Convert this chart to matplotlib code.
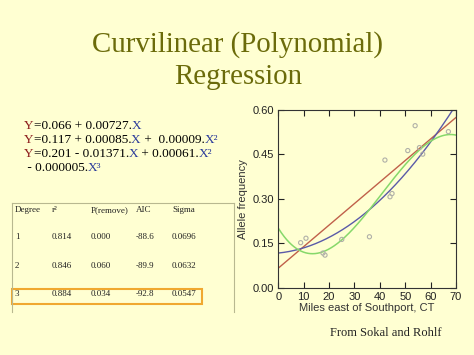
import matplotlib.pyplot as plt
import numpy as np
from numpy.polynomial import polynomial as P

# Datos: puntos observados (millas, frecuencia alélica)
miles = [8.8, 10.9, 17.6, 18.4, 25.0, 35.9, 42.0, 44.0, 44.8, 51.0, 53.9, 55.6, 56.9, 67.0]
freq = [0.152, 0.167, 0.117, 0.110, 0.163, 0.172, 0.431, 0.307, 0.318, 0.463, 0.547, 0.473, 0.451, 0.527]

# Coeficientes de los ajustes (orden creciente)
coef_lin = [0.066, 0.00727]
coef_quad = [0.117, 0.00085, 0.00009]
coef_cub = [0.201, -0.01371, 0.00061, -0.000005]

# Tabla
table_header = ["Degree", "r\u00b2", "P(remove)", "AIC", "Sigma"]
degrees = ["1", "2", "3"]
r2 = ["0.814", "0.846", "0.884"]
p_remove = ["0.000", "0.060", "0.034"]
aic = ["-88.6", "-89.9", "-92.8"]
sigma = ["0.0696", "0.0632", "0.0547"]

W, H = 474, 355
bg = "#ffffd2"
red_t = "#8b1a1a"
blue_t = "#2a3a9a"


def px(x, y):
    return x / W, 1 - y / H


fig = plt.figure(figsize=(W / 100, H / 100), dpi=100, facecolor=bg)
serif = ["Liberation Serif", "DejaVu Serif"]

# Título
fig.text(*px(238, 45), "Curvilinear (Polynomial)", ha="center", va="center",
         fontsize=20.8, color="#6b6b0a", family=serif)
fig.text(*px(238, 77), "Regression", ha="center", va="center",
         fontsize=20.8, color="#6b6b0a", family=serif)

# Ecuaciones con colores mezclados
eq_lines = [
    (24, 126, [("Y", red_t), ("=0.066 + 0.00727.", "k"), ("X", blue_t)]),
    (24, 140, [("Y", red_t), ("=0.117 + 0.00085.", "k"), ("X", blue_t),
               (" +  0.00009.", "k"), ("X\u00b2", blue_t)]),
    (24, 154, [("Y", red_t), ("=0.201 - 0.01371.", "k"), ("X", blue_t),
               (" + 0.00061.", "k"), ("X\u00b2", blue_t)]),
    (24, 168, [(" - 0.000005.", "k"), ("X\u00b3", blue_t)]),
]
renderer = fig.canvas.get_renderer()
for x0, y0, parts in eq_lines:
    x = x0
    for s, c in parts:
        t = fig.text(*px(x, y0), s, ha="left", va="center", fontsize=9.5,
                     color=c, family=serif)
        x += t.get_window_extent(renderer).width

# Tabla
cols_x = [15, 52, 91, 136, 172]
rows_y = [210, 237, 266, 294]
rows = [table_header] + [list(r) for r in zip(degrees, r2, p_remove, aic, sigma)]
for y, row in zip(rows_y, rows):
    for x, s in zip(cols_x, row):
        fig.text(*px(x, y), s, ha="left", va="center", fontsize=6.5,
                 color="#222222", family=serif)

line_col = "#b8b890"
fig.add_artist(plt.Line2D([12 / W, 234 / W], [1 - 203 / H] * 2,
                          color=line_col, lw=0.8, transform=fig.transFigure))
fig.add_artist(plt.Line2D([12 / W] * 2, [1 - 203 / H, 1 - 312 / H],
                          color=line_col, lw=0.8, transform=fig.transFigure))
fig.add_artist(plt.Line2D([234 / W] * 2, [1 - 203 / H, 1 - 312 / H],
                          color=line_col, lw=0.8, transform=fig.transFigure))
fig.add_artist(plt.Rectangle(px(12, 304), 190 / W, 15 / H, fill=False,
                             edgecolor="#f0a830", lw=1.5, transform=fig.transFigure))

fig.text(*px(386, 333), "From Sokal and Rohlf", ha="center", va="center",
         fontsize=9, color="#222222", family=serif)

# Gráfica
ax = fig.add_axes([278.3 / W, 1 - 287.7 / H, 177.7 / W, 177.7 / H])
ax.set_facecolor(bg)
xs = np.linspace(0, 70, 300)
ax.plot(xs, P.polyval(xs, coef_lin), color="#c0604a", lw=1)
ax.plot(xs, P.polyval(xs, coef_quad), color="#5a5aa8", lw=1)
ax.plot(xs, P.polyval(xs, coef_cub), color="#86d86a", lw=1.1)
ax.scatter(miles, freq, s=9, facecolors="none", edgecolors="#b0b0a8", lw=0.8, zorder=3)

ax.set_xlim(0, 70)
ax.set_ylim(0, 0.6)
ax.set_xticks(np.arange(0, 71, 10))
ax.set_yticks([0, 0.15, 0.30, 0.45, 0.60])
ax.set_yticklabels(["0.00", "0.15", "0.30", "0.45", "0.60"])
ax.tick_params(direction="in", top=True, right=True, length=4, width=0.8,
               labelsize=8, colors="#222222", pad=3)
for lab in ax.get_xticklabels() + ax.get_yticklabels():
    lab.set_family("Liberation Sans")
for sp in ax.spines.values():
    sp.set_linewidth(0.8)
    sp.set_color("#333333")
ax.set_xlabel("Miles east of Southport, CT", fontsize=8, family="Liberation Sans",
              color="#333333", labelpad=1)
ax.set_ylabel("Allele frequency", fontsize=8, family="Liberation Sans",
              color="#333333", labelpad=3)

fig.savefig("out.png", dpi=100, facecolor=bg)
